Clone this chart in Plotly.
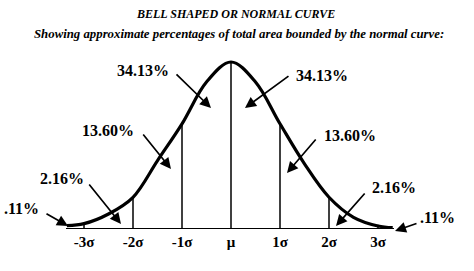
import plotly.graph_objects as go

# ---- data (x in sigma units, y = curve height, peak = 100) ----
curve_x = [-3.35, -3.0, -2.5, -2.0, -1.5, -1.0, -0.5, 0.0, 0.5, 1.0, 1.5, 2.0, 2.5, 3.0, 3.3]
curve_h = [2.0, 3.2, 9.0, 19.0, 41.0, 63.0, 88.0, 100.0, 88.0, 63.0, 39.0, 19.0, 7.0, 1.8, 0.8]

divider_x = [-3, -2, -1, 0, 1, 2, 3]
divider_h = [3.0, 19.0, 63.0, 100.0, 63.0, 19.0, 2.5]

tick_vals = [-3, -2, -1, 0, 1, 2, 3]
tick_text = ["-3σ", "-2σ", "-1σ", "μ", "1σ", "2σ", "3σ"]

pct_labels = ["34.13%", "34.13%", "13.60%", "13.60%", "2.16%", "2.16%", ".11%", ".11%"]

title = "BELL SHAPED OR NORMAL CURVE"
subtitle = "Showing approximate percentages of total area bounded by the normal curve:"

# ---- pixel placement helpers (layout only) ----
MU_PX, SIG_PX, BASE_PX, PEAK_PX = 231.0, 49.0, 229.0, 62.0
H_PX = (BASE_PX - PEAK_PX) / 100.0

def dx(px):
    return (px - MU_PX) / SIG_PX

def dy(py):
    return (BASE_PX - py) / H_PX

# label centres (px) and arrows tail->head (px)
label_pos = [(143, 70), (322, 75), (108, 130), (350, 135), (62, 178), (394, 187), (21, 208), (437, 217)]
arrows = [((175, 73), (211, 108)), ((290, 75), (245, 108)),
          ((142, 133), (171, 169)), ((317, 138), (287, 173)),
          ((88, 183), (121, 224)), ((366, 192), (336, 226)),
          ((45, 213), (68, 226)), ((418, 223), (395, 231))]

fig = go.Figure()

# baseline
fig.add_trace(go.Scatter(x=[dx(66), dx(394)], y=[0, 0], mode="lines",
                         line=dict(color="black", width=2.2), hoverinfo="skip"))

# dividers
vx, vy = [], []
for x, h in zip(divider_x, divider_h):
    vx += [x, x, None]
    vy += [0, h, None]
fig.add_trace(go.Scatter(x=vx, y=vy, mode="lines",
                         line=dict(color="black", width=1.5), hoverinfo="skip"))

# curve
fig.add_trace(go.Scatter(x=curve_x, y=curve_h, mode="lines",
                         line=dict(color="black", width=3.2, shape="spline", smoothing=1.0),
                         hoverinfo="skip"))

annotations = []
lab_font = dict(family="Liberation Serif", size=16, color="black")
for txt, (px, py) in zip(pct_labels, label_pos):
    annotations.append(dict(x=dx(px), y=dy(py), xref="x", yref="y", text="<b>%s</b>" % txt,
                            showarrow=False, font=lab_font, xanchor="center", yanchor="middle"))
for (tx, ty), (hx, hy) in arrows:
    annotations.append(dict(x=dx(hx), y=dy(hy), xref="x", yref="y", ax=dx(tx), ay=dy(ty),
                            axref="x", ayref="y", text="", showarrow=True, arrowhead=2,
                            arrowsize=1.3, arrowwidth=1.7, arrowcolor="black", standoff=0))

annotations.append(dict(x=dx(235), y=dy(14), xref="x", yref="y", text="<b><i>%s</i></b>" % title,
                        showarrow=False, font=dict(family="Liberation Serif", size=12, color="black"),
                        xanchor="center", yanchor="middle"))
annotations.append(dict(x=dx(239), y=dy(34), xref="x", yref="y", text="<b><i>%s</i></b>" % subtitle,
                        showarrow=False, font=dict(family="Liberation Serif", size=12.8, color="black"),
                        xanchor="center", yanchor="middle"))

fig.update_layout(
    width=474, height=271, margin=dict(l=0, r=0, t=0, b=271 - BASE_PX),
    paper_bgcolor="white", plot_bgcolor="white", showlegend=False,
    annotations=annotations,
    xaxis=dict(range=[dx(0), dx(474)], tickmode="array", tickvals=tick_vals,
               ticktext=["<b>%s</b>" % t for t in tick_text],
               showgrid=False, zeroline=False, showline=False, ticks="", ticklabelstandoff=2,
               tickfont=dict(family="Liberation Serif", size=15, color="black"), fixedrange=True),
    yaxis=dict(range=[0, dy(0)], visible=False, showgrid=False, zeroline=False, fixedrange=True),
)

fig.write_html("out.html")
